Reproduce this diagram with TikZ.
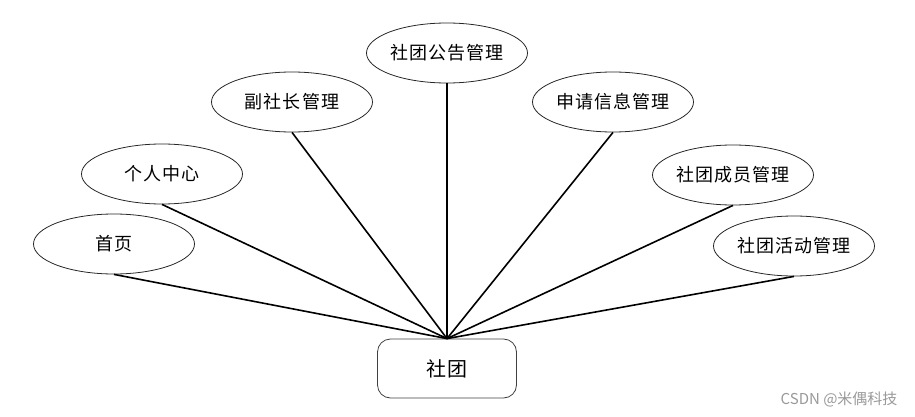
\documentclass[tikz,border=0pt]{standalone}
\usepackage{fontspec}
\usetikzlibrary{shapes.geometric}
\newfontfamily\cjk{Noto Sans CJK SC}
\newfontfamily\cjkw[LetterSpace=6]{Noto Sans CJK SC}
\begin{document}
\begin{tikzpicture}[x=1pt,y=-1pt,
  ell/.style={draw=black!85,line width=0.8pt,ellipse,minimum width=161pt,minimum height=60pt,inner sep=0pt,font=\cjkw\fontsize{18}{18}\selectfont},
  root/.style={draw=black!75,line width=0.8pt,rounded corners=13pt,minimum width=139pt,minimum height=59pt,inner sep=0pt,font=\cjkw\fontsize{20}{20}\selectfont},
  conn/.style={line width=1.6pt,black}]
\useasboundingbox (0,0) rectangle (915,417);
\node[root] (r) at (447,368.5) {社团};
\node[ell] (a) at (114,244) {首页};
\node[ell] (b) at (162,174) {个人中心};
\node[ell] (c) at (292,102) {副社长管理};
\node[ell] (d) at (447,53) {社团公告管理};
\node[ell] (e) at (613,102) {申请信息管理};
\node[ell] (f) at (733,175) {社团成员管理};
\node[ell] (g) at (794,246) {社团活动管理};
\foreach \n in {a,b,c,d,e,f,g}{
  \draw[conn] (\n.south) -- (r.north);
}
\node[text=black!40,font=\cjk\fontsize{15}{15}\selectfont,anchor=east] (w) at (901,399) {CSDN @米偶科技};
\end{tikzpicture}
\end{document}
